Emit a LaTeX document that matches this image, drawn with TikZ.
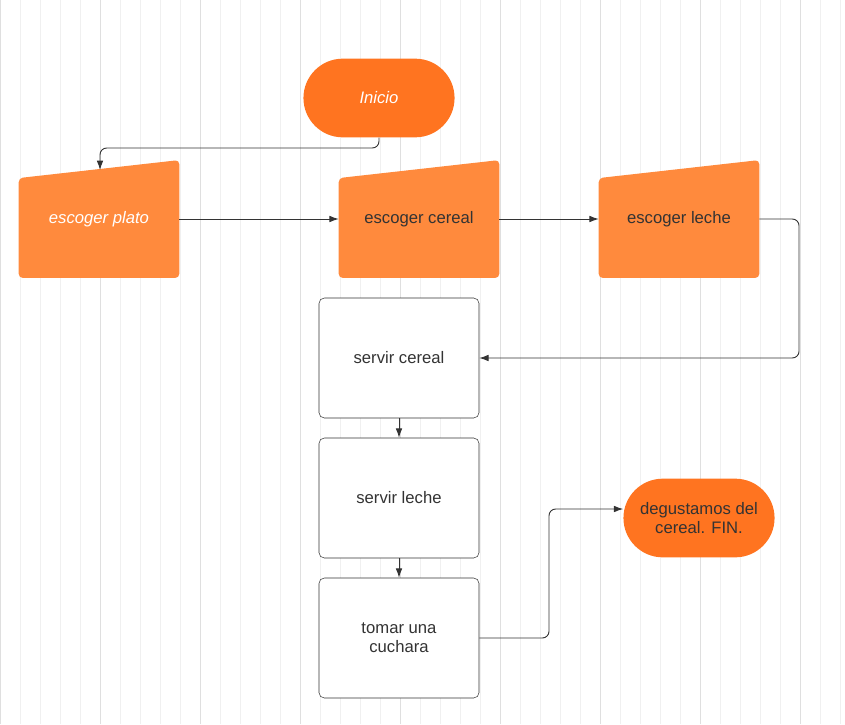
\documentclass[tikz,border=0pt]{standalone}
\usepackage{fontspec}
\setmainfont{Liberation Sans}
\usetikzlibrary{arrows.meta,shapes.misc}
\definecolor{naranja}{HTML}{FF7420}
\definecolor{naranjaclaro}{HTML}{FF8A3D}
\definecolor{texto}{HTML}{333333}
\definecolor{rejilla}{HTML}{E6E6E6}
\tikzset{
  terminal/.style={rounded rectangle, fill=naranja, minimum width=120pt, minimum height=59pt, text=texto, align=center, font=\fontsize{12.5}{14}\selectfont},
  proceso/.style={rectangle, rounded corners=4pt, draw=texto, fill=white, minimum width=120pt, minimum height=90pt, text=texto, align=center, font=\fontsize{12.5}{14}\selectfont},
  entrada/.style={rectangle, minimum width=120pt, minimum height=88pt, text=texto, align=center, font=\fontsize{12.5}{14}\selectfont},
  flecha/.style={-{Latex[length=7pt,width=5pt]}, draw=texto, rounded corners=5pt, line width=0.7pt}
}
\newcommand{\manual}[1]{%
  \fill[naranjaclaro, rounded corners=3pt] (#1.south west) -- ([yshift=-13.5pt]#1.north west) -- (#1.north east) -- (#1.south east) -- cycle;}
\begin{document}
\begin{tikzpicture}[x=0.75pt,y=-0.75pt]
  \useasboundingbox (0,0) rectangle (845,724);
  \draw[rejilla!60, line width=0.4pt] (0,0) grid[step=20] (845,724);
  \draw[rejilla!130, line width=0.5pt] (0,0) grid[step=100] (845,724);
  \node[terminal, text=white, font=\itshape\fontsize{12.5}{14}\selectfont] (inicio) at (379,98) {Inicio};
  \node[entrada] (plato) at (99,219) {};
  \node[entrada] (cereal) at (419,219) {};
  \node[entrada] (leche) at (679,219) {};
  \manual{plato}
  \manual{cereal}
  \manual{leche}
  \node[entrada, text=white, font=\itshape\fontsize{12.5}{14}\selectfont] at (plato) {escoger plato};
  \node[entrada] at (cereal) {escoger cereal};
  \node[entrada] at (leche) {escoger leche};
  \node[proceso] (sircereal) at (399,358) {servir cereal};
  \node[proceso] (sirleche) at (399,498) {servir leche};
  \node[proceso] (cuchara) at (399,638) {tomar una\\cuchara};
  \node[terminal] (fin) at (699,518) {degustamos del\\cereal. FIN.};
  \draw[flecha] (inicio.south) |- (100,148) -- (100,170);
  \draw[flecha] (plato.east) -- (cereal.west);
  \draw[flecha] (cereal.east) -- (leche.east -| leche.west);
  \draw[flecha] (leche.east) -| (799,358) -- (sircereal.east);
  \draw[flecha] (sircereal) -- (sirleche);
  \draw[flecha] (sirleche) -- (cuchara);
  \draw[flecha] (cuchara.east) -| (549,509) -- (fin.west |- 0,509);
\end{tikzpicture}
\end{document}
